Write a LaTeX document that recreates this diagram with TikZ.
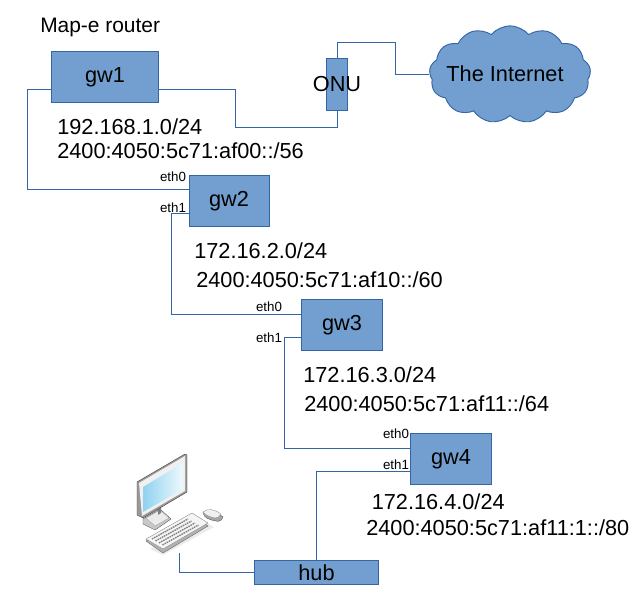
\documentclass[tikz,border=0pt]{standalone}
\usepackage{fontspec}
\setmainfont{Liberation Sans}
\usetikzlibrary{shapes.symbols, positioning}

\definecolor{boxfill}{HTML}{729FCF}
\definecolor{boxline}{HTML}{3465A4}
\definecolor{screenblue}{HTML}{8FD3F0}

\tikzset{
    router/.style={draw=boxline, fill=boxfill, line width=0.7pt, inner sep=0pt, font=\fontsize{16.3}{18}\selectfont},
    link/.style={draw=boxline, line width=0.6pt},
    addr/.style={anchor=base west, inner sep=0pt, font=\fontsize{16.3}{18}\selectfont},
    port/.style={inner sep=0pt, font=\fontsize{10}{12}\selectfont}
}

\begin{document}
\begin{tikzpicture}[x=0.75pt, y=-0.75pt]
\useasboundingbox (0,0) rectangle (644,605);

% Computer
\fill[black!8] (150,549) -- (205,522) -- (214,527) -- (163,555) -- cycle;
\filldraw[draw=black!60, fill=black!30, line width=0.3pt] (146,541) -- (192,514) -- (208,526) -- (163,553) -- cycle;
\filldraw[draw=black!45, fill=black!4, line width=0.3pt] (146,539) -- (192,513) -- (208,523) -- (163,549) -- cycle;
\foreach \i in {0,1,2,3}
    \draw[black!50, line width=1pt, dash pattern=on 1.2pt off 0.6pt] (152+\i*3.5,539+\i*2) -- (188+\i*3.5,519+\i*2);
\filldraw[draw=black!65, fill=black!35, line width=0.3pt] (203,513) .. controls (208,509) and (214,510) .. (223,517) .. controls (222,521) and (218,522) .. (216,521) .. controls (210,520) and (204,518) .. (203,513) -- cycle;
\filldraw[draw=black!40, fill=black!6, line width=0.3pt] (203,512) .. controls (208,508) and (214,509) .. (221,514) .. controls (220,517) and (217,518) .. (215,518) .. controls (210,517) and (205,515) .. (203,512) -- cycle;
\filldraw[draw=black!65, fill=black!22, line width=0.3pt] (143,519) -- (160,509) -- (171,519) -- (155,530) -- (143,524) -- cycle;
\filldraw[draw=black!35, fill=black!8, line width=0.3pt] (146,518) -- (160,510) -- (169,518) -- (155,526) -- cycle;
\fill[black!50] (158,508) -- (161,506) -- (161,513) -- (158,515) -- cycle;
\filldraw[draw=black!75, fill=black!40, line width=0.3pt] (137,482) -- (185,454) -- (187,455) -- (187,492) -- (143,518) -- (137,515) -- cycle;
\fill[black!6] (139,483) -- (185,456) -- (185,491) -- (142,516) -- cycle;
\shade[left color=screenblue, right color=screenblue!15!white] (143,487) -- (183,463) -- (183,489) -- (143,512) -- cycle;

% Routers
\node[router, minimum width=80.25pt, minimum height=38.25pt] (gw1) at (105,77) {gw1};
\node[router, minimum width=60pt, minimum height=38.25pt] (gw2) at (229,201) {gw2};
\node[router, minimum width=60.75pt, minimum height=38.25pt] (gw3) at (342,325) {gw3};
\node[router, minimum width=60.75pt, minimum height=38.25pt] (gw4) at (451,459) {gw4};
\node[router, minimum width=93pt, minimum height=18pt] (hub) at (316.5,572.5) {hub};
\node[router, minimum width=15.75pt, minimum height=39pt] (onu) at (337,84) {\makebox[0pt]{ONU}};
\node[router, cloud, cloud puffs=13, cloud puff arc=100, aspect=2, minimum width=121pt, minimum height=73pt] (inet) at (510,74.5) {\makebox[0pt]{\hspace*{-7.5pt}\raisebox{1.5pt}{The Internet}}};

% Bends and free ends
\coordinate (bendonu) at (235.5,127);
\coordinate (bendinet) at (395.5,42);
\coordinate (bendgw) at (27.5,189);
\coordinate (bendtwo) at (171.5,314);
\coordinate (bendthree) at (284.5,448);
\coordinate (pc) at (179.5,553);

% Links
\draw[link] ([yshift=-9.4pt]gw1.east) -| (bendonu) -| (onu.south);
\draw[link] (onu.north) |- (bendinet) |- (inet.west);
\draw[link] ([yshift=-9.4pt]gw1.west) -| (bendgw) -- (bendgw -| gw2.west);
\draw[link] ([yshift=-9.4pt]gw2.west) -| (bendtwo) -- (bendtwo -| gw3.west);
\draw[link] ([yshift=-9.4pt]gw3.west) -| (bendthree) -- (bendthree -| gw4.west);
\draw[link] ([yshift=-9.4pt]gw4.west) -| (hub.north);
\draw[link] (pc) |- (hub.west);

% Labels
\node[addr, font=\fontsize{15.7}{18}\selectfont] (title) at (40,33) {Map-e router};
\node[addr] (neta) at (57,134.5) {192.168.1.0/24};
\node[addr] (neta6) at (57,158.5) {2400:4050:5c71:af00::/56};
\node[addr] (netb) at (194,258.5) {172.16.2.0/24};
\node[addr] (netb6) at (196,287.5) {2400:4050:5c71:af10::/60};
\node[addr] (netc) at (303,382.5) {172.16.3.0/24};
\node[addr] (netc6) at (304,411.5) {2400:4050:5c71:af11::/64};
\node[addr] (netd) at (371.5,509.5) {172.16.4.0/24};
\node[addr] (netd6) at (366,535.5) {2400:4050:5c71:af11:1::/80};

\node[port] (gw2e0) at (173,177) {eth0};
\node[port] (gw2e1) at (173,208) {eth1};
\node[port] (gw3e0) at (269,307) {eth0};
\node[port] (gw3e1) at (269,338) {eth1};
\node[port] (gw4e0) at (396,434) {eth0};
\node[port] (gw4e1) at (396,465) {eth1};

\end{tikzpicture}
\end{document}
